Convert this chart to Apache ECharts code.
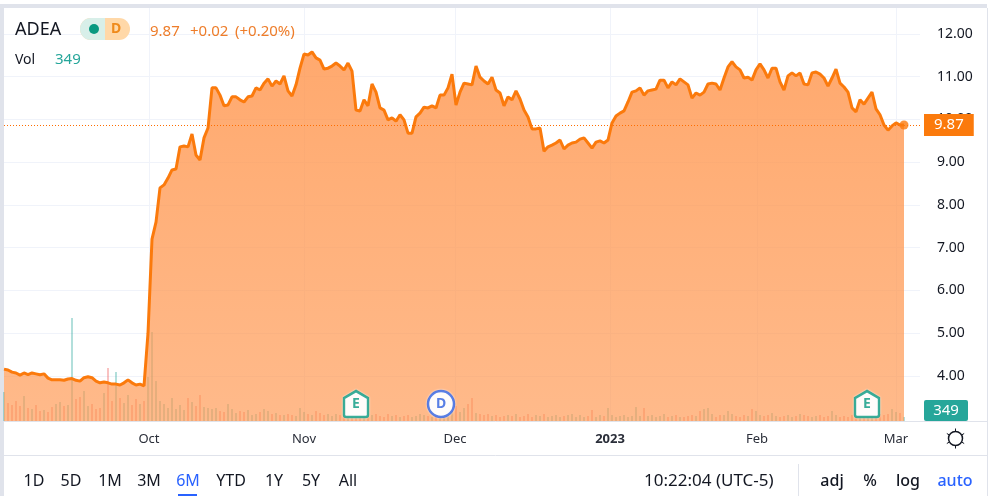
<!DOCTYPE html>
<html>
<head>
<meta charset="utf-8">
<title>ADEA</title>
<script src="https://cdn.jsdelivr.net/npm/echarts@6/dist/echarts.min.js"></script>
<style>
html, body { margin: 0; padding: 0; background: #fff; }
#main { width: 991px; height: 496px; }
</style>
</head>
<body>
<div id="main"></div>
<script>
// closing prices, one per bar
var closes = [
	4.16,4.14,4.09,4.07,4.02,4.07,4.03,4.07,4.05,4.03,
	4.05,3.95,3.91,3.91,3.91,3.90,3.93,3.94,3.90,3.88,
	3.96,3.98,3.96,3.88,3.84,3.86,3.84,3.81,3.81,3.79,
	3.84,3.91,3.84,3.79,3.81,3.77,5.00,7.20,7.60,8.40,
	8.47,8.63,8.82,8.84,9.36,9.38,9.36,9.66,9.17,9.05,
	9.57,9.80,10.74,10.74,10.57,10.32,10.34,10.53,10.53,10.46,
	10.41,10.53,10.55,10.74,10.69,10.85,10.95,10.78,10.90,10.83,
	11.02,10.67,10.55,10.81,11.20,11.53,11.51,11.58,11.44,11.39,
	11.18,11.20,11.25,11.32,11.25,11.16,11.32,11.13,10.22,10.20,
	10.46,10.32,10.83,10.64,10.27,10.22,9.99,10.04,9.96,10.11,
	9.99,9.68,9.68,10.06,10.15,10.29,10.27,10.32,10.27,10.57,
	10.57,10.74,11.06,10.34,10.64,10.85,10.83,10.81,11.25,10.99,
	10.90,10.83,10.99,10.69,10.62,10.32,10.53,10.46,10.67,10.48,
	10.22,10.06,9.78,9.78,9.80,9.26,9.36,9.40,9.45,9.52,
	9.31,9.40,9.45,9.47,9.54,9.57,9.45,9.33,9.47,9.50,
	9.45,9.52,9.92,10.08,10.15,10.20,10.41,10.64,10.67,10.74,
	10.57,10.67,10.69,10.71,10.92,10.92,10.74,10.88,10.81,10.95,
	10.88,10.81,10.50,10.62,10.57,10.64,10.83,10.85,10.83,10.69,
	10.97,11.23,11.35,11.23,11.16,10.97,10.99,10.92,11.16,11.30,
	11.16,10.97,11.20,11.20,10.88,10.69,11.02,11.09,11.02,11.09,
	10.83,10.81,11.09,11.11,11.06,10.97,10.78,10.97,11.18,10.85,
	10.76,10.64,10.27,10.18,10.46,10.36,10.50,10.64,10.25,10.11,
	9.87,9.75,9.85,9.92,9.87,9.87
];
// volume per bar, thousands of shares
var volumes = [
	290,180,160,200,150,250,130,120,160,100,
	110,90,140,170,190,150,160,1030,220,240,
	300,150,170,120,130,280,530,200,490,230,
	180,260,160,220,170,200,440,890,400,200,
	170,130,230,120,160,110,230,190,150,260,
	140,130,120,130,100,90,170,120,80,100,
	90,110,60,70,90,120,100,70,80,60,
	60,70,60,50,130,90,70,60,100,80,
	60,70,50,70,60,60,90,70,40,60,
	70,50,60,70,50,40,70,50,60,40,
	50,60,40,50,70,60,50,40,60,50,
	60,90,110,150,90,130,170,230,80,70,
	60,70,50,60,40,50,60,50,70,40,
	50,70,40,60,50,70,40,50,60,40,
	50,60,70,40,60,40,50,110,40,60,
	50,130,60,40,50,60,40,50,140,50,
	130,50,60,40,50,70,40,50,60,40,
	40,50,60,50,100,120,130,70,40,60,
	60,100,70,50,40,60,50,120,100,60,
	50,60,80,50,40,50,60,40,50,70,
	60,50,40,50,60,40,50,100,60,40,
	50,40,60,50,70,40,50,60,50,70,
	60,70,120,90,80,40
];
var monthTicks = [36.25, 75, 112.75, 151.5, 188.25, 223];
var monthLabels = ['Oct', 'Nov', 'Dec', '2023', 'Feb', 'Mar'];
var priceTicks = [4, 5, 6, 7, 8, 9, 10, 11, 12];
var lastPrice = 9.87;
var lastVolume = '349';
var eventBars = [88, 109.25, 215.75];
var eventLabels = ['E', 'D', 'E'];
var eventLevel = 170;
var ranges = ['1D', '5D', '1M', '3M', '6M', 'YTD', '1Y', '5Y', 'All'];

var FONT = '"Noto Sans", sans-serif';
var ORANGE = '#fb7a0c';
var TEAL = '#26a69a';
var HOUSE = 'path://M10 0 L20 7 L20 24 Q20 26 18 26 L2 26 Q0 26 0 24 L0 7 Z';

function text(x, y, str, color, size, weight, align) {
	return {
		type: 'text', x: x, y: y, z: 50,
		style: {
			text: str, fill: color, font: (weight || 'normal') + ' ' + size + 'px ' + FONT,
			textAlign: align || 'left', textVerticalAlign: 'middle'
		}
	};
}
function rule(x1, y1, x2, y2, color) {
	return {
		type: 'line', z: 40, silent: true,
		shape: { x1: x1, y1: y1, x2: x2, y2: y2 },
		style: { stroke: color, lineWidth: 1 }
	};
}

var chrome = [
	{ type: 'rect', z: 0, shape: { x: 0, y: 4, width: 987, height: 4 }, style: { fill: '#e0e3eb' } },
	{ type: 'rect', z: 0, shape: { x: 0, y: 4, width: 4, height: 492 }, style: { fill: '#e0e3eb' } },
	rule(987.5, 8, 987.5, 496, '#e0e3eb'),
	rule(4, 421.5, 987, 421.5, '#e0e3eb'),
	rule(4, 455.5, 987, 455.5, '#e0e3eb'),
	rule(798.5, 464, 798.5, 496, '#e0e3eb'),
	text(15, 30, 'ADEA', '#131722', 18),
	{ type: 'rect', z: 45, shape: { x: 80, y: 18, width: 50, height: 22, r: 11 }, style: { fill: '#ffd8a8' } },
	{ type: 'rect', z: 46, shape: { x: 80, y: 18, width: 25, height: 22, r: [11, 0, 0, 11] }, style: { fill: '#d8efe9' } },
	{ type: 'circle', z: 47, shape: { cx: 94, cy: 29, r: 5 }, style: { fill: '#089981' } },
	text(116, 29, 'D', '#ef8a1c', 14, 'bold', 'center'),
	text(150, 32, '9.87', '#ee7d2a', 15),
	text(190, 32, '+0.02', '#ee7d2a', 15),
	text(235, 32, '(+0.20%)', '#ee7d2a', 15),
	text(15, 60, 'Vol', '#131722', 14),
	text(55, 60, lastVolume, '#26a69a', 15),
	{ type: 'rect', z: 45, shape: { x: 924, y: 400, width: 44, height: 21, r: 2 }, style: { fill: TEAL } },
	text(946, 411, lastVolume, '#fff', 15, 'normal', 'center'),
	{ type: 'circle', z: 45, shape: { cx: 955.5, cy: 438.5, r: 7 }, style: { fill: '#fff', stroke: '#131722', lineWidth: 1.5 } },
	text(644, 481, '10:22:04 (UTC-5)', '#131722', 17),
	text(832, 481, 'adj', '#131722', 16, '500', 'center'),
	text(870, 481, '%', '#131722', 16, '500', 'center'),
	text(908, 481, 'log', '#131722', 16, '500', 'center'),
	text(955, 481, 'auto', '#2962ff', 16, '500', 'center'),
	{ type: 'rect', z: 45, shape: { x: 178, y: 494, width: 19, height: 2 }, style: { fill: '#2962ff' } }
];
// rays of the settings sun
for (var a = 0; a < 6; a++) {
	var ang = Math.PI / 6 + a * Math.PI / 3;
	chrome.push(rule(955.5 + 7 * Math.cos(ang), 438.5 + 7 * Math.sin(ang),
		955.5 + 10 * Math.cos(ang), 438.5 + 10 * Math.sin(ang), '#131722'));
}
var rangeX = [34, 71, 110, 149, 188, 231, 274, 311, 348];
for (var r = 0; r < ranges.length; r++) {
	chrome.push(text(rangeX[r], 481, ranges[r], ranges[r] == '6M' ? '#2962ff' : '#131722', 16, 'normal', 'center'));
}

var priceData = [], volumeData = [], eventData = [];
for (var i = 0; i < closes.length; i++) {
	priceData.push([i, closes[i]]);
	var up = i == 0 || closes[i] >= closes[i - 1];
	volumeData.push({
		value: [i, volumes[i]],
		itemStyle: { color: up ? 'rgba(38,166,154,0.7)' : 'rgba(239,83,80,0.7)' }
	});
}
for (var j = 0; j < eventBars.length; j++) {
	var isDiv = eventLabels[j] == 'D';
	eventData.push({
		value: [eventBars[j], eventLevel],
		symbol: isDiv ? 'circle' : HOUSE,
		symbolSize: isDiv ? 26 : [24, 26],
		itemStyle: {
			color: '#fff', borderColor: isDiv ? '#2f5fe0' : '#089981', borderWidth: 2.5,
			shadowColor: '#fff', shadowBlur: 2
		},
		label: {
			show: true, position: 'inside', formatter: eventLabels[j], fontFamily: FONT,
			fontSize: 14, fontWeight: 'bold', color: isDiv ? '#2f5fe0' : '#089981'
		}
	});
}

var myChart = echarts.init(document.getElementById('main'), null, { renderer: 'canvas' });
var option = {
	animation: false,
	backgroundColor: '#fff',
	textStyle: { fontFamily: FONT },
	graphic: chrome,
	grid: { left: 4, top: 8, width: 916, height: 413 },
	xAxis: {
		type: 'value', min: 0, max: 229,
		axisLine: { show: false },
		axisTick: { show: false, customValues: monthTicks },
		splitLine: { show: true, lineStyle: { color: '#f0f3fa', width: 1 } },
		axisLabel: {
			customValues: monthTicks, margin: 12, fontSize: 13, color: '#2a2e39',
			formatter: function(v) {
				var s = monthLabels[monthTicks.indexOf(v)];
				return s == '2023' ? '{b|' + s + '}' : s;
			},
			rich: { b: { fontWeight: 'bold', fontSize: 13, color: '#2a2e39' } }
		}
	},
	yAxis: [{
		type: 'value', position: 'right', min: 2.947, max: 12.608,
		axisLine: { show: false },
		axisTick: { show: false, customValues: priceTicks },
		splitLine: { show: true, lineStyle: { color: '#f0f3fa', width: 1 } },
		axisLabel: {
			customValues: priceTicks, margin: 17, fontSize: 14, color: '#131722', padding: [4, 0, 0, 0],
			formatter: function(v) { return v.toFixed(2); }
		}
	}, {
		type: 'value', min: 0, max: 4130, show: false
	}],
	series: [{
		name: 'Vol', type: 'bar', data: volumeData, yAxisIndex: 1,
		barWidth: 1, z: 1
	}, {
		name: 'ADEA', type: 'line', data: priceData, yAxisIndex: 0,
		symbol: 'none', z: 3,
		lineStyle: { color: ORANGE, width: 3 },
		areaStyle: {
			origin: 'start', opacity: 1,
			color: new echarts.graphic.LinearGradient(0, 0, 0, 1, [
				{ offset: 0, color: 'rgba(255,150,78,0.82)' },
				{ offset: 1, color: 'rgba(255,150,78,0.66)' }
			])
		},
		markLine: {
			silent: true, symbol: 'none',
			lineStyle: { color: '#ff6d00', type: [1, 2], width: 1, opacity: 1 },
			label: {
				show: true, position: 'end', distance: 4, formatter: lastPrice.toFixed(2),
				backgroundColor: ORANGE, color: '#fff', fontSize: 15, fontFamily: FONT,
				padding: [4, 10, 3, 10]
			},
			data: [{ yAxis: lastPrice }]
		}
	}, {
		name: 'Last', type: 'scatter', data: [[closes.length - 1, lastPrice]], yAxisIndex: 0,
		symbol: 'circle', symbolSize: 9, itemStyle: { color: ORANGE }, z: 5
	}, {
		name: 'Events', type: 'scatter', data: eventData, yAxisIndex: 1, z: 6
	}]
};
myChart.setOption(option);
</script>
</body>
</html>
